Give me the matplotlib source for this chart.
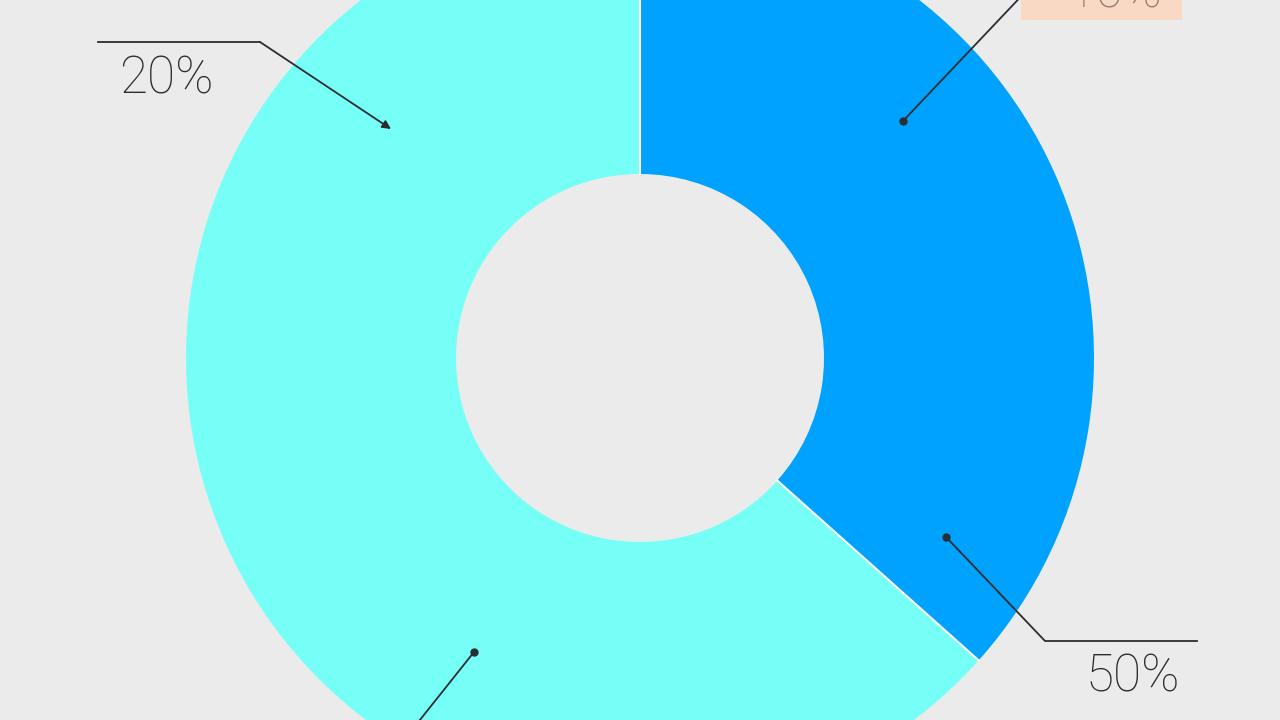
import numpy as np
import matplotlib.pyplot as plt
from matplotlib.patches import Rectangle

plt.rcParams['font.family'] = ['Roboto', 'DejaVu Sans']

# wedge shares (clockwise from 12 o'clock)
shares = [36.6, 63.4]
colors = ['#00a2ff', '#76fff6']
labels = ['10%', '20%', '50%']

bg = '#ebebeb'
ink = '#2a2e31'

fig = plt.figure(figsize=(12.8, 7.2), dpi=100, facecolor=bg)
ax = fig.add_axes([0, 0, 1, 1])
ax.set_facecolor(bg)

def Y(y):
    # pixel row -> data y
    return 720 - y

cx, cy, r_out, ring = 640, Y(358), 454, 270
ax.pie(shares, colors=colors, startangle=90, counterclock=False,
       center=(cx, cy), radius=r_out, frame=True,
       wedgeprops=dict(width=ring, edgecolor='none', linewidth=0))

# thin white seams between the wedges
edges = 90 - 360 * np.cumsum([0] + shares[:-1]) / 100.0
for a in np.deg2rad(edges):
    r = np.array([r_out - ring, r_out])
    ax.plot(cx + r * np.cos(a), cy + r * np.sin(a), color='white', lw=1.5, zorder=2)

ax.set_xlim(0, 1280)
ax.set_ylim(0, 720)
ax.set_aspect('equal')
ax.axis('off')

txt = dict(fontsize=37, color=ink, fontweight='light')

# top-right label with peach box, mostly cut off
ax.add_patch(Rectangle((1021, Y(20)), 161, 60, facecolor='#f9d8c4',
                       edgecolor='none', zorder=3))
ax.text(1115, Y(8), labels[0], ha='center', va='baseline', fontsize=37,
        fontweight='light', color='#8c7d75', zorder=4)
ax.plot([903, 1030], [Y(121), Y(-13)], color=ink, lw=1.3, zorder=5)
ax.plot([903], [Y(121)], 'o', color=ink, ms=5, zorder=5)

# left label
ax.plot([98, 260], [Y(42), Y(42)], color=ink, lw=1.3, zorder=5)
ax.annotate('', xy=(391, Y(129)), xytext=(260, Y(42)),
            arrowprops=dict(arrowstyle='-|>,head_length=0.5,head_width=0.25',
                            color=ink, lw=1.3, shrinkA=0, shrinkB=0), zorder=5)
ax.text(166, Y(80), labels[1], ha='center', va='center', **txt)

# right label
ax.plot([946, 1045, 1197], [Y(537), Y(641), Y(641)], color=ink, lw=1.3, zorder=5)
ax.plot([946], [Y(537)], 'o', color=ink, ms=5, zorder=5)
ax.text(1133, Y(677), labels[2], ha='center', va='center', **txt)

# bottom leader, label cut off
ax.plot([474, 400], [Y(652), Y(745)], color=ink, lw=1.3, zorder=5)
ax.plot([474], [Y(652)], 'o', color=ink, ms=5, zorder=5)

fig.savefig('out.png', dpi=100, facecolor=bg)
